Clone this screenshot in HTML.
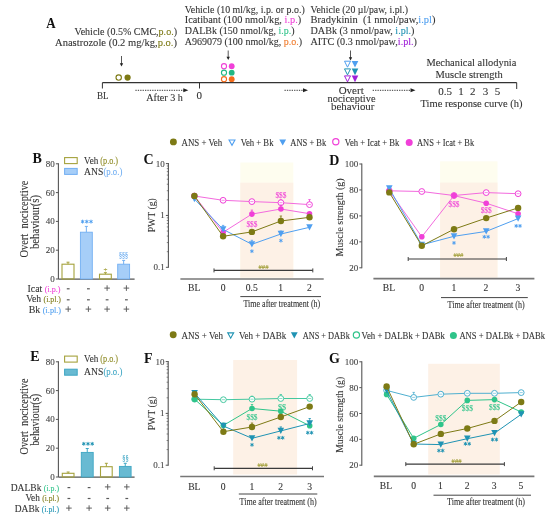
<!DOCTYPE html>
<html><head><meta charset="utf-8"><style>
html,body{margin:0;padding:0;background:#fff;width:550px;height:519px;overflow:hidden;}
svg{display:block;filter:blur(0.3px);}
text{font-family:"Liberation Serif",serif;}
</style></head><body>
<svg width="550" height="519" viewBox="0 0 550 519">
<rect x="0" y="0" width="550" height="519" fill="#fff"/>
<text x="46.2" y="28.3" font-size="14" fill="#111" font-weight="bold" textLength="9.4" lengthAdjust="spacingAndGlyphs">A</text>
<text x="177" y="34.5" font-size="11.2" fill="#333" stroke="#333" stroke-width="0.1" text-anchor="end" textLength="102.5" lengthAdjust="spacingAndGlyphs">Vehicle (0.5% CMC,<tspan fill="#7d7a15" stroke="#7d7a15">p.o.</tspan>)</text>
<text x="177" y="45.5" font-size="11.2" fill="#333" stroke="#333" stroke-width="0.1" text-anchor="end" textLength="122" lengthAdjust="spacingAndGlyphs">Anastrozole (0.2 mg/kg,<tspan fill="#7d7a15" stroke="#7d7a15">p.o.</tspan>)</text>
<text x="184.7" y="13" font-size="11.2" fill="#333" stroke="#333" stroke-width="0.1" textLength="120" lengthAdjust="spacingAndGlyphs">Vehicle (10 ml/kg, i.p. or p.o.)</text>
<text x="184.7" y="23.4" font-size="11.2" fill="#333" stroke="#333" stroke-width="0.1" textLength="116.5" lengthAdjust="spacingAndGlyphs">Icatibant (100 nmol/kg, <tspan fill="#f040d8" stroke="#f040d8">i.p.</tspan>)</text>
<text x="184.7" y="34.3" font-size="11.2" fill="#333" stroke="#333" stroke-width="0.1" textLength="110" lengthAdjust="spacingAndGlyphs">DALBk (150 nmol/kg, <tspan fill="#2fc48a" stroke="#2fc48a">i.p.</tspan>)</text>
<text x="184.7" y="45.3" font-size="11.2" fill="#333" stroke="#333" stroke-width="0.1" textLength="117.5" lengthAdjust="spacingAndGlyphs">A969079 (100 nmol/kg, <tspan fill="#f07a2a" stroke="#f07a2a">p.o.</tspan>)</text>
<text x="310.5" y="13" font-size="11.2" fill="#333" stroke="#333" stroke-width="0.1" textLength="97.5" lengthAdjust="spacingAndGlyphs">Vehicle (20 µl/paw, i.pl.)</text>
<text x="310.5" y="23.4" font-size="11.2" fill="#333" stroke="#333" stroke-width="0.1" textLength="125" lengthAdjust="spacingAndGlyphs">Bradykinin &#160;(1 nmol/paw,<tspan fill="#4f9ff0" stroke="#4f9ff0">i.pl</tspan>)</text>
<text x="310.5" y="34.3" font-size="11.2" fill="#333" stroke="#333" stroke-width="0.1" textLength="104" lengthAdjust="spacingAndGlyphs">DABk (3 nmol/paw, <tspan fill="#1f93b3" stroke="#1f93b3">i.pl.</tspan>)</text>
<text x="310.5" y="45.3" font-size="11.2" fill="#333" stroke="#333" stroke-width="0.1" textLength="106.5" lengthAdjust="spacingAndGlyphs">AITC (0.3 nmol/paw,<tspan fill="#a020d8" stroke="#a020d8">i.pl.</tspan>)</text>
<line x1="102.4" y1="82.6" x2="516.7" y2="82.6" stroke="#333" stroke-width="1.1"/>
<line x1="102.4" y1="82.6" x2="102.4" y2="88.5" stroke="#333" stroke-width="1"/>
<line x1="199.5" y1="82.6" x2="199.5" y2="88.5" stroke="#333" stroke-width="1"/>
<line x1="516.7" y1="82.6" x2="516.7" y2="89" stroke="#333" stroke-width="1"/>
<line x1="121.5" y1="56" x2="121.5" y2="64.0" stroke="#444" stroke-width="0.9"/>
<polygon points="119.8,63.3 123.2,63.3 121.5,66.5" fill="#222"/>
<line x1="228.2" y1="50.5" x2="228.2" y2="57.5" stroke="#444" stroke-width="0.9"/>
<polygon points="226.5,56.8 229.89999999999998,56.8 228.2,60" fill="#222"/>
<line x1="350.5" y1="50.5" x2="350.5" y2="58.0" stroke="#444" stroke-width="0.9"/>
<polygon points="348.8,57.3 352.2,57.3 350.5,60.5" fill="#222"/>
<circle cx="118.7" cy="77.6" r="2.7" fill="none" stroke="#7d7a15" stroke-width="1.1"/>
<circle cx="127.6" cy="77.6" r="3.1" fill="#7d7a15" stroke="none" stroke-width="1"/>
<circle cx="224.0" cy="66.2" r="2.55" fill="none" stroke="#f040d8" stroke-width="1.1"/>
<circle cx="231.7" cy="66.2" r="2.9" fill="#f040d8" stroke="none" stroke-width="1"/>
<circle cx="224.0" cy="72.7" r="2.55" fill="none" stroke="#22b884" stroke-width="1.1"/>
<circle cx="231.7" cy="72.7" r="2.9" fill="#22b884" stroke="none" stroke-width="1"/>
<circle cx="224.0" cy="79.2" r="2.55" fill="none" stroke="#f46b1a" stroke-width="1.1"/>
<circle cx="231.7" cy="79.2" r="2.9" fill="#f46b1a" stroke="none" stroke-width="1"/>
<polygon points="344.5,61.2 350.5,61.2 347.5,67.2" fill="none" stroke="#4f9ff0" stroke-width="1.0" stroke-linejoin="miter"/>
<polygon points="351.7,60.900000000000006 358.3,60.900000000000006 355,67.5" fill="#4f9ff0" stroke="none" stroke-width="1" stroke-linejoin="miter"/>
<polygon points="344.5,68.9 350.5,68.9 347.5,74.9" fill="none" stroke="#1f93b3" stroke-width="1.0" stroke-linejoin="miter"/>
<polygon points="351.7,68.60000000000001 358.3,68.60000000000001 355,75.2" fill="#1f93b3" stroke="none" stroke-width="1" stroke-linejoin="miter"/>
<polygon points="344.5,75.9 350.5,75.9 347.5,81.9" fill="none" stroke="#a020d8" stroke-width="1.0" stroke-linejoin="miter"/>
<polygon points="351.7,75.60000000000001 358.3,75.60000000000001 355,82.2" fill="#a020d8" stroke="none" stroke-width="1" stroke-linejoin="miter"/>
<line x1="135.4" y1="90.3" x2="184.3" y2="90.3" stroke="#222" stroke-width="0.9" stroke-dasharray="1.3,1.1"/>
<polygon points="183.3,88.3 183.3,92.3 188.3,90.3" fill="#222"/>
<line x1="284.5" y1="90.3" x2="304" y2="90.3" stroke="#222" stroke-width="0.9" stroke-dasharray="1.3,1.1"/>
<polygon points="303,88.3 303,92.3 308,90.3" fill="#222"/>
<line x1="372.7" y1="90.3" x2="411.5" y2="90.3" stroke="#222" stroke-width="0.9" stroke-dasharray="1.3,1.1"/>
<polygon points="410.5,88.3 410.5,92.3 415.5,90.3" fill="#222"/>
<text x="97" y="98.5" font-size="11" fill="#333" stroke="#333" stroke-width="0.1" textLength="11.6" lengthAdjust="spacingAndGlyphs">BL</text>
<text x="199.3" y="98.5" font-size="11" fill="#333" stroke="#333" stroke-width="0.1" text-anchor="middle">0</text>
<text x="146.3" y="100.7" font-size="11.2" fill="#333" stroke="#333" stroke-width="0.1" textLength="36.5" lengthAdjust="spacingAndGlyphs">After 3 h</text>
<text x="351.2" y="93.6" font-size="11.2" fill="#333" stroke="#333" stroke-width="0.1" text-anchor="middle" textLength="25" lengthAdjust="spacingAndGlyphs">Overt</text>
<text x="351.5" y="101.8" font-size="11.2" fill="#333" stroke="#333" stroke-width="0.1" text-anchor="middle" textLength="48" lengthAdjust="spacingAndGlyphs">nociceptive</text>
<text x="352.7" y="110" font-size="11.2" fill="#333" stroke="#333" stroke-width="0.1" text-anchor="middle" textLength="43.5" lengthAdjust="spacingAndGlyphs">behaviour</text>
<text x="426.4" y="66.4" font-size="11.2" fill="#333" stroke="#333" stroke-width="0.1" textLength="90" lengthAdjust="spacingAndGlyphs">Mechanical allodynia</text>
<text x="435.5" y="77.9" font-size="11.2" fill="#333" stroke="#333" stroke-width="0.1" textLength="67.2" lengthAdjust="spacingAndGlyphs">Muscle strength</text>
<text x="445" y="94.5" font-size="11" fill="#333" stroke="#333" stroke-width="0.1" text-anchor="middle">0.5</text>
<text x="461" y="94.5" font-size="11" fill="#333" stroke="#333" stroke-width="0.1" text-anchor="middle">1</text>
<text x="472.7" y="94.5" font-size="11" fill="#333" stroke="#333" stroke-width="0.1" text-anchor="middle">2</text>
<text x="485.5" y="94.5" font-size="11" fill="#333" stroke="#333" stroke-width="0.1" text-anchor="middle">3</text>
<text x="497.6" y="94.5" font-size="11" fill="#333" stroke="#333" stroke-width="0.1" text-anchor="middle">5</text>
<text x="420.5" y="107.3" font-size="11.2" fill="#333" stroke="#333" stroke-width="0.1" textLength="102" lengthAdjust="spacingAndGlyphs">Time response curve (h)</text>
<text x="32.4" y="163.3" font-size="14" fill="#111" font-weight="bold">B</text>
<line x1="58.4" y1="163.3" x2="58.4" y2="279" stroke="#555" stroke-width="1.1"/>
<line x1="58.4" y1="279" x2="134.6" y2="279" stroke="#555" stroke-width="1.25"/>
<line x1="55.9" y1="163.8" x2="58.4" y2="163.8" stroke="#555" stroke-width="1"/>
<text x="54.8" y="166.8" font-size="9" fill="#444" stroke="#444" stroke-width="0.1" text-anchor="end">80</text>
<line x1="55.9" y1="192.60000000000002" x2="58.4" y2="192.60000000000002" stroke="#555" stroke-width="1"/>
<text x="54.8" y="195.60000000000002" font-size="9" fill="#444" stroke="#444" stroke-width="0.1" text-anchor="end">60</text>
<line x1="55.9" y1="221.4" x2="58.4" y2="221.4" stroke="#555" stroke-width="1"/>
<text x="54.8" y="224.4" font-size="9" fill="#444" stroke="#444" stroke-width="0.1" text-anchor="end">40</text>
<line x1="55.9" y1="250.2" x2="58.4" y2="250.2" stroke="#555" stroke-width="1"/>
<text x="54.8" y="253.2" font-size="9" fill="#444" stroke="#444" stroke-width="0.1" text-anchor="end">20</text>
<line x1="55.9" y1="279.0" x2="58.4" y2="279.0" stroke="#555" stroke-width="1"/>
<text x="54.8" y="282.0" font-size="9" fill="#444" stroke="#444" stroke-width="0.1" text-anchor="end">0</text>
<rect x="64.6" y="157.6" width="12.6" height="6" fill="none" stroke="#a5a23c" stroke-width="1.1"/>
<rect x="64.6" y="168.4" width="12.6" height="6" fill="#a6cef8" stroke="#72aff2" stroke-width="1"/>
<text x="84.1" y="163.7" font-size="10.5" fill="#333" stroke="#333" stroke-width="0.1" textLength="34" lengthAdjust="spacingAndGlyphs">Veh<tspan fill="#8d8a22" stroke="#8d8a22" font-size="9.5"> (p.o.)</tspan></text>
<text x="84.1" y="174.5" font-size="10.5" fill="#333" stroke="#333" stroke-width="0.1" textLength="38.2" lengthAdjust="spacingAndGlyphs">ANS<tspan fill="#72aff2" stroke="#72aff2" font-size="9.5">(p.o.)</tspan></text>
<rect x="62.0" y="264.2" width="12.0" height="14.800000000000011" fill="none" stroke="#a5a23c" stroke-width="1.1"/>
<line x1="68.0" y1="264.2" x2="68.0" y2="262.2" stroke="#a5a23c" stroke-width="1"/>
<line x1="66.5" y1="262.2" x2="69.5" y2="262.2" stroke="#a5a23c" stroke-width="1"/>
<rect x="80.4" y="232.2" width="11.900000000000002" height="46.80000000000001" fill="#a6cef8" stroke="#72aff2" stroke-width="0.9"/>
<line x1="86.35" y1="232.2" x2="86.35" y2="226.4" stroke="#72aff2" stroke-width="1"/>
<line x1="84.85" y1="226.4" x2="87.85" y2="226.4" stroke="#72aff2" stroke-width="1"/>
<rect x="99.5" y="274.2" width="11.799999999999997" height="4.800000000000011" fill="none" stroke="#a5a23c" stroke-width="1.1"/>
<line x1="105.4" y1="274.2" x2="105.4" y2="272.7" stroke="#a5a23c" stroke-width="1"/>
<line x1="103.9" y1="272.7" x2="106.9" y2="272.7" stroke="#a5a23c" stroke-width="1"/>
<rect x="117.7" y="264.2" width="11.900000000000002" height="14.800000000000011" fill="#a6cef8" stroke="#72aff2" stroke-width="0.9"/>
<line x1="123.65" y1="264.2" x2="123.65" y2="260.4" stroke="#72aff2" stroke-width="1"/>
<line x1="122.15" y1="260.4" x2="125.15" y2="260.4" stroke="#72aff2" stroke-width="1"/>
<line x1="82.6" y1="219.7" x2="82.6" y2="223.5" stroke="#4f9ff0" stroke-width="1.0"/>
<line x1="80.95" y1="220.65" x2="84.25" y2="222.55" stroke="#4f9ff0" stroke-width="1.0"/>
<line x1="80.95" y1="222.55" x2="84.25" y2="220.65" stroke="#4f9ff0" stroke-width="1.0"/>
<line x1="86.8" y1="219.7" x2="86.8" y2="223.5" stroke="#4f9ff0" stroke-width="1.0"/>
<line x1="85.15" y1="220.65" x2="88.45" y2="222.55" stroke="#4f9ff0" stroke-width="1.0"/>
<line x1="85.15" y1="222.55" x2="88.45" y2="220.65" stroke="#4f9ff0" stroke-width="1.0"/>
<line x1="91.0" y1="219.7" x2="91.0" y2="223.5" stroke="#4f9ff0" stroke-width="1.0"/>
<line x1="89.35" y1="220.65" x2="92.65" y2="222.55" stroke="#4f9ff0" stroke-width="1.0"/>
<line x1="89.35" y1="222.55" x2="92.65" y2="220.65" stroke="#4f9ff0" stroke-width="1.0"/>
<text x="105.4" y="271.5" font-size="7" fill="#a5a23c" stroke="#a5a23c" stroke-width="0.1" text-anchor="middle">+</text>
<text x="123.6" y="257.6" font-size="8.5" fill="#5aa2ee" stroke="#5aa2ee" stroke-width="0.1" text-anchor="middle" textLength="9" lengthAdjust="spacingAndGlyphs" stroke="#7ab8f5" stroke-width="0.3">§§§</text>
<text transform="translate(27.6,219) rotate(-90)" x="0" y="0" font-size="11.5" fill="#333" stroke="#333" stroke-width="0.1" text-anchor="middle" textLength="77" lengthAdjust="spacingAndGlyphs">Overt &#160;nociceptive</text>
<text transform="translate(38.6,222) rotate(-90)" x="0" y="0" font-size="11.5" fill="#333" stroke="#333" stroke-width="0.1" text-anchor="middle" textLength="54" lengthAdjust="spacingAndGlyphs">behaviour(s)</text>
<text x="60.5" y="291.5" font-size="11" fill="#333" stroke="#333" stroke-width="0.1" text-anchor="end" textLength="33" lengthAdjust="spacingAndGlyphs">Icat <tspan fill="#f040d8" stroke="#f040d8" font-size="9">(i.p.)</tspan></text>
<line x1="66.8" y1="288.8" x2="69.60000000000001" y2="288.8" stroke="#5a5a5a" stroke-width="1.2"/>
<line x1="87.0" y1="288.8" x2="89.80000000000001" y2="288.8" stroke="#5a5a5a" stroke-width="1.2"/>
<line x1="104.3" y1="288.1" x2="109.89999999999999" y2="288.1" stroke="#5a5a5a" stroke-width="0.95"/>
<line x1="107.1" y1="285.3" x2="107.1" y2="290.90000000000003" stroke="#5a5a5a" stroke-width="0.95"/>
<line x1="123.60000000000001" y1="288.1" x2="129.20000000000002" y2="288.1" stroke="#5a5a5a" stroke-width="0.95"/>
<line x1="126.4" y1="285.3" x2="126.4" y2="290.90000000000003" stroke="#5a5a5a" stroke-width="0.95"/>
<text x="61" y="301.6" font-size="11" fill="#333" stroke="#333" stroke-width="0.1" text-anchor="end" textLength="34.8" lengthAdjust="spacingAndGlyphs">Veh <tspan fill="#7d7a15" stroke="#7d7a15" font-size="9">(i.pl.)</tspan></text>
<line x1="66.8" y1="299.8" x2="69.60000000000001" y2="299.8" stroke="#5a5a5a" stroke-width="1.2"/>
<line x1="87.0" y1="299.8" x2="89.80000000000001" y2="299.8" stroke="#5a5a5a" stroke-width="1.2"/>
<line x1="105.69999999999999" y1="299.8" x2="108.5" y2="299.8" stroke="#5a5a5a" stroke-width="1.2"/>
<line x1="125.0" y1="299.8" x2="127.80000000000001" y2="299.8" stroke="#5a5a5a" stroke-width="1.2"/>
<text x="61" y="312.6" font-size="11" fill="#333" stroke="#333" stroke-width="0.1" text-anchor="end" textLength="32.3" lengthAdjust="spacingAndGlyphs">Bk <tspan fill="#4f9ff0" stroke="#4f9ff0" font-size="9">(i.pl.)</tspan></text>
<line x1="65.4" y1="309.1" x2="71.0" y2="309.1" stroke="#5a5a5a" stroke-width="0.95"/>
<line x1="68.2" y1="306.3" x2="68.2" y2="311.90000000000003" stroke="#5a5a5a" stroke-width="0.95"/>
<line x1="85.60000000000001" y1="309.1" x2="91.2" y2="309.1" stroke="#5a5a5a" stroke-width="0.95"/>
<line x1="88.4" y1="306.3" x2="88.4" y2="311.90000000000003" stroke="#5a5a5a" stroke-width="0.95"/>
<line x1="104.3" y1="309.1" x2="109.89999999999999" y2="309.1" stroke="#5a5a5a" stroke-width="0.95"/>
<line x1="107.1" y1="306.3" x2="107.1" y2="311.90000000000003" stroke="#5a5a5a" stroke-width="0.95"/>
<line x1="123.60000000000001" y1="309.1" x2="129.20000000000002" y2="309.1" stroke="#5a5a5a" stroke-width="0.95"/>
<line x1="126.4" y1="306.3" x2="126.4" y2="311.90000000000003" stroke="#5a5a5a" stroke-width="0.95"/>
<text x="30.2" y="361" font-size="14" fill="#111" font-weight="bold">E</text>
<line x1="58.4" y1="361.3" x2="58.4" y2="477" stroke="#555" stroke-width="1.1"/>
<line x1="58.4" y1="477" x2="134.6" y2="477" stroke="#555" stroke-width="1.25"/>
<line x1="55.9" y1="361.8" x2="58.4" y2="361.8" stroke="#555" stroke-width="1"/>
<text x="54.8" y="364.8" font-size="9" fill="#444" stroke="#444" stroke-width="0.1" text-anchor="end">80</text>
<line x1="55.9" y1="390.6" x2="58.4" y2="390.6" stroke="#555" stroke-width="1"/>
<text x="54.8" y="393.6" font-size="9" fill="#444" stroke="#444" stroke-width="0.1" text-anchor="end">60</text>
<line x1="55.9" y1="419.4" x2="58.4" y2="419.4" stroke="#555" stroke-width="1"/>
<text x="54.8" y="422.4" font-size="9" fill="#444" stroke="#444" stroke-width="0.1" text-anchor="end">40</text>
<line x1="55.9" y1="448.2" x2="58.4" y2="448.2" stroke="#555" stroke-width="1"/>
<text x="54.8" y="451.2" font-size="9" fill="#444" stroke="#444" stroke-width="0.1" text-anchor="end">20</text>
<line x1="55.9" y1="477.0" x2="58.4" y2="477.0" stroke="#555" stroke-width="1"/>
<text x="54.8" y="480.0" font-size="9" fill="#444" stroke="#444" stroke-width="0.1" text-anchor="end">0</text>
<rect x="64.6" y="356.09999999999997" width="12.6" height="6" fill="none" stroke="#a5a23c" stroke-width="1.1"/>
<rect x="64.6" y="369.2" width="12.6" height="6" fill="#68bad2" stroke="#3ea6c4" stroke-width="1"/>
<text x="84.1" y="362.2" font-size="10.5" fill="#333" stroke="#333" stroke-width="0.1" textLength="34" lengthAdjust="spacingAndGlyphs">Veh<tspan fill="#8d8a22" stroke="#8d8a22" font-size="9.5"> (p.o.)</tspan></text>
<text x="84.1" y="375.3" font-size="10.5" fill="#333" stroke="#333" stroke-width="0.1" textLength="38.2" lengthAdjust="spacingAndGlyphs">ANS<tspan fill="#3ea6c4" stroke="#3ea6c4" font-size="9.5">(p.o.)</tspan></text>
<rect x="62.3" y="473.3" width="11.700000000000003" height="3.6999999999999886" fill="none" stroke="#a5a23c" stroke-width="1.1"/>
<line x1="68.15" y1="473.3" x2="68.15" y2="472.0" stroke="#a5a23c" stroke-width="1"/>
<line x1="66.65" y1="472.0" x2="69.65" y2="472.0" stroke="#a5a23c" stroke-width="1"/>
<rect x="81.30000000000001" y="452.4" width="11.899999999999988" height="24.600000000000023" fill="#68bad2" stroke="#3ea6c4" stroke-width="0.9"/>
<line x1="87.25" y1="452.4" x2="87.25" y2="448.5" stroke="#3ea6c4" stroke-width="1"/>
<line x1="85.75" y1="448.5" x2="88.75" y2="448.5" stroke="#3ea6c4" stroke-width="1"/>
<rect x="100.5" y="466.7" width="11.700000000000003" height="10.300000000000011" fill="none" stroke="#a5a23c" stroke-width="1.1"/>
<line x1="106.35" y1="466.7" x2="106.35" y2="463.3" stroke="#a5a23c" stroke-width="1"/>
<line x1="104.85" y1="463.3" x2="107.85" y2="463.3" stroke="#a5a23c" stroke-width="1"/>
<rect x="119.4" y="466.4" width="11.7" height="10.600000000000023" fill="#68bad2" stroke="#3ea6c4" stroke-width="0.9"/>
<line x1="125.25" y1="466.4" x2="125.25" y2="463.3" stroke="#3ea6c4" stroke-width="1"/>
<line x1="123.75" y1="463.3" x2="126.75" y2="463.3" stroke="#3ea6c4" stroke-width="1"/>
<line x1="83.8" y1="441.9" x2="83.8" y2="445.7" stroke="#1f93b3" stroke-width="1.0"/>
<line x1="82.15" y1="442.85" x2="85.45" y2="444.75" stroke="#1f93b3" stroke-width="1.0"/>
<line x1="82.15" y1="444.75" x2="85.45" y2="442.85" stroke="#1f93b3" stroke-width="1.0"/>
<line x1="88.0" y1="441.9" x2="88.0" y2="445.7" stroke="#1f93b3" stroke-width="1.0"/>
<line x1="86.35" y1="442.85" x2="89.65" y2="444.75" stroke="#1f93b3" stroke-width="1.0"/>
<line x1="86.35" y1="444.75" x2="89.65" y2="442.85" stroke="#1f93b3" stroke-width="1.0"/>
<line x1="92.2" y1="441.9" x2="92.2" y2="445.7" stroke="#1f93b3" stroke-width="1.0"/>
<line x1="90.55" y1="442.85" x2="93.85" y2="444.75" stroke="#1f93b3" stroke-width="1.0"/>
<line x1="90.55" y1="444.75" x2="93.85" y2="442.85" stroke="#1f93b3" stroke-width="1.0"/>
<text x="125.5" y="461.2" font-size="8.5" fill="#3ea6c4" stroke="#3ea6c4" stroke-width="0.1" text-anchor="middle" textLength="6.5" lengthAdjust="spacingAndGlyphs" stroke="#5ab0cc" stroke-width="0.3">§§</text>
<text transform="translate(27.6,416.5) rotate(-90)" x="0" y="0" font-size="11.5" fill="#333" stroke="#333" stroke-width="0.1" text-anchor="middle" textLength="76" lengthAdjust="spacingAndGlyphs">Overt &#160;nociceptive</text>
<text transform="translate(38.6,419.8) rotate(-90)" x="0" y="0" font-size="11.5" fill="#333" stroke="#333" stroke-width="0.1" text-anchor="middle" textLength="52" lengthAdjust="spacingAndGlyphs">behaviour(s)</text>
<text x="59" y="490.8" font-size="11" fill="#333" stroke="#333" stroke-width="0.1" text-anchor="end" textLength="48.3" lengthAdjust="spacingAndGlyphs">DALBk <tspan fill="#2fc48a" stroke="#2fc48a" font-size="9">(i.p.)</tspan></text>
<line x1="67.5" y1="487.59999999999997" x2="70.30000000000001" y2="487.59999999999997" stroke="#5a5a5a" stroke-width="1.2"/>
<line x1="87.69999999999999" y1="487.59999999999997" x2="90.5" y2="487.59999999999997" stroke="#5a5a5a" stroke-width="1.2"/>
<line x1="104.9" y1="486.9" x2="110.5" y2="486.9" stroke="#5a5a5a" stroke-width="0.95"/>
<line x1="107.7" y1="484.09999999999997" x2="107.7" y2="489.7" stroke="#5a5a5a" stroke-width="0.95"/>
<line x1="124.0" y1="486.9" x2="129.6" y2="486.9" stroke="#5a5a5a" stroke-width="0.95"/>
<line x1="126.8" y1="484.09999999999997" x2="126.8" y2="489.7" stroke="#5a5a5a" stroke-width="0.95"/>
<text x="59" y="501.1" font-size="11" fill="#333" stroke="#333" stroke-width="0.1" text-anchor="end" textLength="33.6" lengthAdjust="spacingAndGlyphs">Veh <tspan fill="#7d7a15" stroke="#7d7a15" font-size="9">(i.pl.)</tspan></text>
<line x1="67.5" y1="498.5" x2="70.30000000000001" y2="498.5" stroke="#5a5a5a" stroke-width="1.2"/>
<line x1="87.69999999999999" y1="498.5" x2="90.5" y2="498.5" stroke="#5a5a5a" stroke-width="1.2"/>
<line x1="106.3" y1="498.5" x2="109.10000000000001" y2="498.5" stroke="#5a5a5a" stroke-width="1.2"/>
<line x1="125.39999999999999" y1="498.5" x2="128.2" y2="498.5" stroke="#5a5a5a" stroke-width="1.2"/>
<text x="59" y="511.6" font-size="11" fill="#333" stroke="#333" stroke-width="0.1" text-anchor="end" textLength="44.2" lengthAdjust="spacingAndGlyphs">DABk <tspan fill="#1f93b3" stroke="#1f93b3" font-size="9">(i.pl.)</tspan></text>
<line x1="66.10000000000001" y1="508.1" x2="71.7" y2="508.1" stroke="#5a5a5a" stroke-width="0.95"/>
<line x1="68.9" y1="505.3" x2="68.9" y2="510.90000000000003" stroke="#5a5a5a" stroke-width="0.95"/>
<line x1="86.3" y1="508.1" x2="91.89999999999999" y2="508.1" stroke="#5a5a5a" stroke-width="0.95"/>
<line x1="89.1" y1="505.3" x2="89.1" y2="510.90000000000003" stroke="#5a5a5a" stroke-width="0.95"/>
<line x1="104.9" y1="508.1" x2="110.5" y2="508.1" stroke="#5a5a5a" stroke-width="0.95"/>
<line x1="107.7" y1="505.3" x2="107.7" y2="510.90000000000003" stroke="#5a5a5a" stroke-width="0.95"/>
<line x1="124.0" y1="508.1" x2="129.6" y2="508.1" stroke="#5a5a5a" stroke-width="0.95"/>
<line x1="126.8" y1="505.3" x2="126.8" y2="510.90000000000003" stroke="#5a5a5a" stroke-width="0.95"/>
<rect x="240.3" y="162.5" width="53" height="115.2" fill="#fefdef" stroke="none" stroke-width="1"/>
<rect x="240.3" y="182.7" width="53" height="95" fill="#fdf1e6" stroke="none" stroke-width="1"/>
<text x="143.5" y="164.3" font-size="14" fill="#111" font-weight="bold">C</text>
<line x1="168.4" y1="163.1" x2="168.4" y2="267.8" stroke="#555" stroke-width="1.1"/>
<line x1="165.9" y1="163.6" x2="168.4" y2="163.6" stroke="#555" stroke-width="1"/>
<text x="164.8" y="166.6" font-size="9" fill="#444" stroke="#444" stroke-width="0.1" text-anchor="end">10</text>
<line x1="165.9" y1="215.45" x2="168.4" y2="215.45" stroke="#555" stroke-width="1"/>
<text x="164.8" y="218.45" font-size="9" fill="#444" stroke="#444" stroke-width="0.1" text-anchor="end">1</text>
<line x1="165.9" y1="267.3" x2="168.4" y2="267.3" stroke="#555" stroke-width="1"/>
<text x="164.8" y="270.3" font-size="9" fill="#444" stroke="#444" stroke-width="0.1" text-anchor="end">0.1</text>
<line x1="166.8" y1="251.69159472482255" x2="168.4" y2="251.69159472482255" stroke="#555" stroke-width="0.7"/>
<line x1="166.8" y1="242.5612629427855" x2="168.4" y2="242.5612629427855" stroke="#555" stroke-width="0.7"/>
<line x1="166.8" y1="236.08318944964515" x2="168.4" y2="236.08318944964515" stroke="#555" stroke-width="0.7"/>
<line x1="166.8" y1="231.05840527517742" x2="168.4" y2="231.05840527517742" stroke="#555" stroke-width="0.7"/>
<line x1="166.8" y1="226.95285766760807" x2="168.4" y2="226.95285766760807" stroke="#555" stroke-width="0.7"/>
<line x1="166.8" y1="223.48166662526077" x2="168.4" y2="223.48166662526077" stroke="#555" stroke-width="0.7"/>
<line x1="166.8" y1="220.47478417446771" x2="168.4" y2="220.47478417446771" stroke="#555" stroke-width="0.7"/>
<line x1="166.8" y1="217.822525885571" x2="168.4" y2="217.822525885571" stroke="#555" stroke-width="0.7"/>
<line x1="166.8" y1="199.84159472482256" x2="168.4" y2="199.84159472482256" stroke="#555" stroke-width="0.7"/>
<line x1="166.8" y1="190.71126294278548" x2="168.4" y2="190.71126294278548" stroke="#555" stroke-width="0.7"/>
<line x1="166.8" y1="184.23318944964512" x2="168.4" y2="184.23318944964512" stroke="#555" stroke-width="0.7"/>
<line x1="166.8" y1="179.20840527517743" x2="168.4" y2="179.20840527517743" stroke="#555" stroke-width="0.7"/>
<line x1="166.8" y1="175.10285766760808" x2="168.4" y2="175.10285766760808" stroke="#555" stroke-width="0.7"/>
<line x1="166.8" y1="171.63166662526078" x2="168.4" y2="171.63166662526078" stroke="#555" stroke-width="0.7"/>
<line x1="166.8" y1="168.62478417446772" x2="168.4" y2="168.62478417446772" stroke="#555" stroke-width="0.7"/>
<line x1="166.8" y1="165.972525885571" x2="168.4" y2="165.972525885571" stroke="#555" stroke-width="0.7"/>
<line x1="180.4" y1="279" x2="323.7" y2="279" stroke="#777" stroke-width="1.7"/>
<text x="194.2" y="291.3" font-size="9.6" fill="#333" stroke="#333" stroke-width="0.1" text-anchor="middle">BL</text>
<text x="223.1" y="291.3" font-size="9.6" fill="#333" stroke="#333" stroke-width="0.1" text-anchor="middle">0</text>
<text x="251.7" y="291.3" font-size="9.6" fill="#333" stroke="#333" stroke-width="0.1" text-anchor="middle">0.5</text>
<text x="280.6" y="291.3" font-size="9.6" fill="#333" stroke="#333" stroke-width="0.1" text-anchor="middle">1</text>
<text x="309.5" y="291.3" font-size="9.6" fill="#333" stroke="#333" stroke-width="0.1" text-anchor="middle">2</text>
<line x1="240.3" y1="296.6" x2="321" y2="296.6" stroke="#444" stroke-width="1.0"/>
<text x="243.5" y="307.0" font-size="9.5" fill="#333" stroke="#333" stroke-width="0.1" textLength="76.69999999999999" lengthAdjust="spacingAndGlyphs">Time after treatment (h)</text>
<polyline points="194.4,196 223.1,200.3 251.9,201.6 280.9,202.7 309.5,204.6" fill="none" stroke="#f36ade" stroke-width="1.0" stroke-linejoin="round"/>
<line x1="280.9" y1="202.7" x2="280.9" y2="199.7" stroke="#f040d8" stroke-width="0.8"/>
<line x1="279.7" y1="199.7" x2="282.09999999999997" y2="199.7" stroke="#f040d8" stroke-width="0.8"/>
<line x1="309.5" y1="204.6" x2="309.5" y2="199.6" stroke="#f040d8" stroke-width="0.8"/>
<line x1="308.3" y1="199.6" x2="310.7" y2="199.6" stroke="#f040d8" stroke-width="0.8"/>
<circle cx="194.4" cy="196" r="2.9" fill="#fff" stroke="#f040d8" stroke-width="1.0"/>
<line x1="192.8" y1="196" x2="196.0" y2="196" stroke="#f040d8" stroke-width="0.6"/>
<circle cx="223.1" cy="200.3" r="2.9" fill="#fff" stroke="#f040d8" stroke-width="1.0"/>
<line x1="221.5" y1="200.3" x2="224.7" y2="200.3" stroke="#f040d8" stroke-width="0.6"/>
<circle cx="251.9" cy="201.6" r="2.9" fill="#fff" stroke="#f040d8" stroke-width="1.0"/>
<line x1="250.3" y1="201.6" x2="253.5" y2="201.6" stroke="#f040d8" stroke-width="0.6"/>
<circle cx="280.9" cy="202.7" r="2.9" fill="#fff" stroke="#f040d8" stroke-width="1.0"/>
<line x1="279.29999999999995" y1="202.7" x2="282.5" y2="202.7" stroke="#f040d8" stroke-width="0.6"/>
<circle cx="309.5" cy="204.6" r="2.9" fill="#fff" stroke="#f040d8" stroke-width="1.0"/>
<line x1="307.9" y1="204.6" x2="311.1" y2="204.6" stroke="#f040d8" stroke-width="0.6"/>
<polyline points="194.4,196 223.1,232.3 251.9,214.1 280.9,209 309.5,213.7" fill="none" stroke="#f36ade" stroke-width="1.0" stroke-linejoin="round"/>
<line x1="251.9" y1="214.1" x2="251.9" y2="210.1" stroke="#f040d8" stroke-width="0.8"/>
<line x1="250.70000000000002" y1="210.1" x2="253.1" y2="210.1" stroke="#f040d8" stroke-width="0.8"/>
<line x1="280.9" y1="209" x2="280.9" y2="205" stroke="#f040d8" stroke-width="0.8"/>
<line x1="279.7" y1="205" x2="282.09999999999997" y2="205" stroke="#f040d8" stroke-width="0.8"/>
<circle cx="194.4" cy="196" r="2.8" fill="#f040d8" stroke="none" stroke-width="1"/>
<circle cx="223.1" cy="232.3" r="2.8" fill="#f040d8" stroke="none" stroke-width="1"/>
<circle cx="251.9" cy="214.1" r="2.8" fill="#f040d8" stroke="none" stroke-width="1"/>
<circle cx="280.9" cy="209" r="2.8" fill="#f040d8" stroke="none" stroke-width="1"/>
<circle cx="309.5" cy="213.7" r="2.8" fill="#f040d8" stroke="none" stroke-width="1"/>
<polyline points="194.4,199 223.1,229.4 251.9,244.3 280.9,234 309.5,227.3" fill="none" stroke="#4f9ff0" stroke-width="1.0" stroke-linejoin="round"/>
<line x1="223.1" y1="229.4" x2="223.1" y2="225.4" stroke="#4f9ff0" stroke-width="0.8"/>
<line x1="221.9" y1="225.4" x2="224.29999999999998" y2="225.4" stroke="#4f9ff0" stroke-width="0.8"/>
<line x1="251.9" y1="244.3" x2="251.9" y2="240.3" stroke="#4f9ff0" stroke-width="0.8"/>
<line x1="250.70000000000002" y1="240.3" x2="253.1" y2="240.3" stroke="#4f9ff0" stroke-width="0.8"/>
<line x1="280.9" y1="234" x2="280.9" y2="231" stroke="#4f9ff0" stroke-width="0.8"/>
<line x1="279.7" y1="231" x2="282.09999999999997" y2="231" stroke="#4f9ff0" stroke-width="0.8"/>
<polygon points="191.1,195.865 197.70000000000002,195.865 194.4,202.135" fill="#4f9ff0" stroke="none" stroke-width="1" stroke-linejoin="miter"/>
<polygon points="219.79999999999998,226.26500000000001 226.4,226.26500000000001 223.1,232.535" fill="#4f9ff0" stroke="none" stroke-width="1" stroke-linejoin="miter"/>
<polygon points="248.6,241.16500000000002 255.20000000000002,241.16500000000002 251.9,247.435" fill="#4f9ff0" stroke="none" stroke-width="1" stroke-linejoin="miter"/>
<polygon points="277.59999999999997,230.865 284.2,230.865 280.9,237.135" fill="#4f9ff0" stroke="none" stroke-width="1" stroke-linejoin="miter"/>
<polygon points="306.2,224.16500000000002 312.8,224.16500000000002 309.5,230.435" fill="#4f9ff0" stroke="none" stroke-width="1" stroke-linejoin="miter"/>
<polyline points="194.4,196 223.1,236.3 251.9,231.9 280.9,221 309.5,217.3" fill="none" stroke="#7d7a15" stroke-width="1.0" stroke-linejoin="round"/>
<line x1="280.9" y1="221" x2="280.9" y2="216" stroke="#7d7a15" stroke-width="0.8"/>
<line x1="279.7" y1="216" x2="282.09999999999997" y2="216" stroke="#7d7a15" stroke-width="0.8"/>
<line x1="309.5" y1="217.3" x2="309.5" y2="214.3" stroke="#7d7a15" stroke-width="0.8"/>
<line x1="308.3" y1="214.3" x2="310.7" y2="214.3" stroke="#7d7a15" stroke-width="0.8"/>
<circle cx="194.4" cy="196" r="3.2" fill="#7d7a15" stroke="none" stroke-width="1"/>
<circle cx="223.1" cy="236.3" r="3.2" fill="#7d7a15" stroke="none" stroke-width="1"/>
<circle cx="251.9" cy="231.9" r="3.2" fill="#7d7a15" stroke="none" stroke-width="1"/>
<circle cx="280.9" cy="221" r="3.2" fill="#7d7a15" stroke="none" stroke-width="1"/>
<circle cx="309.5" cy="217.3" r="3.2" fill="#7d7a15" stroke="none" stroke-width="1"/>
<text x="251.9" y="226.6" font-size="7.5" fill="#f040d8" stroke="#f040d8" stroke-width="0.1" text-anchor="middle" textLength="11" lengthAdjust="spacingAndGlyphs">$$$</text>
<text x="280.9" y="198.1" font-size="7.5" fill="#f040d8" stroke="#f040d8" stroke-width="0.1" text-anchor="middle" textLength="11" lengthAdjust="spacingAndGlyphs">$$$</text>
<line x1="251.9" y1="249.3" x2="251.9" y2="253.1" stroke="#4f9ff0" stroke-width="1.0"/>
<line x1="250.25" y1="250.25" x2="253.55" y2="252.15" stroke="#4f9ff0" stroke-width="1.0"/>
<line x1="250.25" y1="252.15" x2="253.55" y2="250.25" stroke="#4f9ff0" stroke-width="1.0"/>
<line x1="280.9" y1="238.7" x2="280.9" y2="242.5" stroke="#4f9ff0" stroke-width="1.0"/>
<line x1="279.25" y1="239.65" x2="282.55" y2="241.55" stroke="#4f9ff0" stroke-width="1.0"/>
<line x1="279.25" y1="241.55" x2="282.55" y2="239.65" stroke="#4f9ff0" stroke-width="1.0"/>
<line x1="214" y1="270.4" x2="312.8" y2="270.4" stroke="#3a3a3a" stroke-width="1.2"/>
<line x1="214" y1="268.4" x2="214" y2="272.4" stroke="#444" stroke-width="1"/>
<line x1="312.8" y1="268.4" x2="312.8" y2="272.4" stroke="#444" stroke-width="1"/>
<text x="263.5" y="268.8" font-size="7" fill="#9a982a" stroke="#9a982a" stroke-width="0.1" text-anchor="middle" textLength="10" lengthAdjust="spacingAndGlyphs">###</text>
<text transform="translate(155.2,215.3) rotate(-90)" x="0" y="0" font-size="11.3" fill="#333" stroke="#333" stroke-width="0.1" text-anchor="middle" textLength="34" lengthAdjust="spacingAndGlyphs">PWT (g)</text>
<rect x="440.1" y="161.3" width="57.4" height="116.2" fill="#fefdef" stroke="none" stroke-width="1"/>
<rect x="440.1" y="182.6" width="57.4" height="95" fill="#fdf1e6" stroke="none" stroke-width="1"/>
<text x="329.2" y="165" font-size="14" fill="#111" font-weight="bold">D</text>
<line x1="361.8" y1="163.5" x2="361.8" y2="268.3" stroke="#555" stroke-width="1.1"/>
<line x1="359.3" y1="164.0" x2="361.8" y2="164.0" stroke="#555" stroke-width="1"/>
<text x="358.2" y="167.0" font-size="9" fill="#444" stroke="#444" stroke-width="0.1" text-anchor="end">100</text>
<line x1="359.3" y1="189.95" x2="361.8" y2="189.95" stroke="#555" stroke-width="1"/>
<text x="358.2" y="192.95" font-size="9" fill="#444" stroke="#444" stroke-width="0.1" text-anchor="end">80</text>
<line x1="359.3" y1="215.9" x2="361.8" y2="215.9" stroke="#555" stroke-width="1"/>
<text x="358.2" y="218.9" font-size="9" fill="#444" stroke="#444" stroke-width="0.1" text-anchor="end">60</text>
<line x1="359.3" y1="241.85" x2="361.8" y2="241.85" stroke="#555" stroke-width="1"/>
<text x="358.2" y="244.85" font-size="9" fill="#444" stroke="#444" stroke-width="0.1" text-anchor="end">40</text>
<line x1="359.3" y1="267.8" x2="361.8" y2="267.8" stroke="#555" stroke-width="1"/>
<text x="358.2" y="270.8" font-size="9" fill="#444" stroke="#444" stroke-width="0.1" text-anchor="end">20</text>
<line x1="373.4" y1="278.7" x2="534.4" y2="278.7" stroke="#777" stroke-width="1.7"/>
<text x="389" y="291.0" font-size="9.6" fill="#333" stroke="#333" stroke-width="0.1" text-anchor="middle">BL</text>
<text x="421.7" y="291.0" font-size="9.6" fill="#333" stroke="#333" stroke-width="0.1" text-anchor="middle">0</text>
<text x="454" y="291.0" font-size="9.6" fill="#333" stroke="#333" stroke-width="0.1" text-anchor="middle">1</text>
<text x="485.8" y="291.0" font-size="9.6" fill="#333" stroke="#333" stroke-width="0.1" text-anchor="middle">2</text>
<text x="517.8" y="291.0" font-size="9.6" fill="#333" stroke="#333" stroke-width="0.1" text-anchor="middle">3</text>
<line x1="441" y1="297.6" x2="527.8" y2="297.6" stroke="#444" stroke-width="1.0"/>
<text x="447.6" y="308.1" font-size="9.5" fill="#333" stroke="#333" stroke-width="0.1" textLength="77.0" lengthAdjust="spacingAndGlyphs">Time after treatment (h)</text>
<polyline points="389.3,190.8 421.8,191.5 454,195.5 486.2,192.6 518.1,193.7" fill="none" stroke="#f36ade" stroke-width="1.0" stroke-linejoin="round"/>
<circle cx="389.3" cy="190.8" r="2.9" fill="#fff" stroke="#f040d8" stroke-width="1.0"/>
<line x1="387.7" y1="190.8" x2="390.90000000000003" y2="190.8" stroke="#f040d8" stroke-width="0.6"/>
<circle cx="421.8" cy="191.5" r="2.9" fill="#fff" stroke="#f040d8" stroke-width="1.0"/>
<line x1="420.2" y1="191.5" x2="423.40000000000003" y2="191.5" stroke="#f040d8" stroke-width="0.6"/>
<circle cx="454" cy="195.5" r="2.9" fill="#fff" stroke="#f040d8" stroke-width="1.0"/>
<line x1="452.4" y1="195.5" x2="455.6" y2="195.5" stroke="#f040d8" stroke-width="0.6"/>
<circle cx="486.2" cy="192.6" r="2.9" fill="#fff" stroke="#f040d8" stroke-width="1.0"/>
<line x1="484.59999999999997" y1="192.6" x2="487.8" y2="192.6" stroke="#f040d8" stroke-width="0.6"/>
<circle cx="518.1" cy="193.7" r="2.9" fill="#fff" stroke="#f040d8" stroke-width="1.0"/>
<line x1="516.5" y1="193.7" x2="519.7" y2="193.7" stroke="#f040d8" stroke-width="0.6"/>
<polyline points="389.3,190.8 421.8,236.8 454,195.6 486.2,203.2 518.1,213.8" fill="none" stroke="#f36ade" stroke-width="1.0" stroke-linejoin="round"/>
<circle cx="389.3" cy="190.8" r="2.8" fill="#f040d8" stroke="none" stroke-width="1"/>
<circle cx="421.8" cy="236.8" r="2.8" fill="#f040d8" stroke="none" stroke-width="1"/>
<circle cx="454" cy="195.6" r="2.8" fill="#f040d8" stroke="none" stroke-width="1"/>
<circle cx="486.2" cy="203.2" r="2.8" fill="#f040d8" stroke="none" stroke-width="1"/>
<circle cx="518.1" cy="213.8" r="2.8" fill="#f040d8" stroke="none" stroke-width="1"/>
<polyline points="389.3,188.5 421.8,244.8 454,236.3 486.2,231.4 518.1,218.6" fill="none" stroke="#4f9ff0" stroke-width="1.0" stroke-linejoin="round"/>
<polygon points="386.0,185.365 392.6,185.365 389.3,191.635" fill="#4f9ff0" stroke="none" stroke-width="1" stroke-linejoin="miter"/>
<polygon points="418.5,241.66500000000002 425.1,241.66500000000002 421.8,247.935" fill="#4f9ff0" stroke="none" stroke-width="1" stroke-linejoin="miter"/>
<polygon points="450.7,233.16500000000002 457.3,233.16500000000002 454,239.435" fill="#4f9ff0" stroke="none" stroke-width="1" stroke-linejoin="miter"/>
<polygon points="482.9,228.26500000000001 489.5,228.26500000000001 486.2,234.535" fill="#4f9ff0" stroke="none" stroke-width="1" stroke-linejoin="miter"/>
<polygon points="514.8000000000001,215.465 521.4,215.465 518.1,221.73499999999999" fill="#4f9ff0" stroke="none" stroke-width="1" stroke-linejoin="miter"/>
<polyline points="389.3,192.4 421.8,245.8 454,229.2 486.2,218.1 518.1,207.9" fill="none" stroke="#7d7a15" stroke-width="1.0" stroke-linejoin="round"/>
<circle cx="389.3" cy="192.4" r="3.2" fill="#7d7a15" stroke="none" stroke-width="1"/>
<circle cx="421.8" cy="245.8" r="3.2" fill="#7d7a15" stroke="none" stroke-width="1"/>
<circle cx="454" cy="229.2" r="3.2" fill="#7d7a15" stroke="none" stroke-width="1"/>
<circle cx="486.2" cy="218.1" r="3.2" fill="#7d7a15" stroke="none" stroke-width="1"/>
<circle cx="518.1" cy="207.9" r="3.2" fill="#7d7a15" stroke="none" stroke-width="1"/>
<text x="454" y="207.1" font-size="7.5" fill="#f040d8" stroke="#f040d8" stroke-width="0.1" text-anchor="middle" textLength="11" lengthAdjust="spacingAndGlyphs">$$$</text>
<text x="486.2" y="213.1" font-size="7.5" fill="#f040d8" stroke="#f040d8" stroke-width="0.1" text-anchor="middle" textLength="11" lengthAdjust="spacingAndGlyphs">$$$</text>
<line x1="454.0" y1="241.0" x2="454.0" y2="244.8" stroke="#4f9ff0" stroke-width="1.0"/>
<line x1="452.35" y1="241.95" x2="455.65" y2="243.85" stroke="#4f9ff0" stroke-width="1.0"/>
<line x1="452.35" y1="243.85" x2="455.65" y2="241.95" stroke="#4f9ff0" stroke-width="1.0"/>
<line x1="484.3" y1="234.9" x2="484.3" y2="238.7" stroke="#4f9ff0" stroke-width="1.0"/>
<line x1="482.65" y1="235.85" x2="485.95" y2="237.75" stroke="#4f9ff0" stroke-width="1.0"/>
<line x1="482.65" y1="237.75" x2="485.95" y2="235.85" stroke="#4f9ff0" stroke-width="1.0"/>
<line x1="488.1" y1="234.9" x2="488.1" y2="238.7" stroke="#4f9ff0" stroke-width="1.0"/>
<line x1="486.45" y1="235.85" x2="489.75" y2="237.75" stroke="#4f9ff0" stroke-width="1.0"/>
<line x1="486.45" y1="237.75" x2="489.75" y2="235.85" stroke="#4f9ff0" stroke-width="1.0"/>
<line x1="516.2" y1="224.0" x2="516.2" y2="227.8" stroke="#4f9ff0" stroke-width="1.0"/>
<line x1="514.55" y1="224.95" x2="517.85" y2="226.85" stroke="#4f9ff0" stroke-width="1.0"/>
<line x1="514.55" y1="226.85" x2="517.85" y2="224.95" stroke="#4f9ff0" stroke-width="1.0"/>
<line x1="520.0" y1="224.0" x2="520.0" y2="227.8" stroke="#4f9ff0" stroke-width="1.0"/>
<line x1="518.35" y1="224.95" x2="521.65" y2="226.85" stroke="#4f9ff0" stroke-width="1.0"/>
<line x1="518.35" y1="226.85" x2="521.65" y2="224.95" stroke="#4f9ff0" stroke-width="1.0"/>
<line x1="408.2" y1="259" x2="506.4" y2="259" stroke="#3a3a3a" stroke-width="1.2"/>
<line x1="408.2" y1="257" x2="408.2" y2="261" stroke="#444" stroke-width="1"/>
<line x1="506.4" y1="257" x2="506.4" y2="261" stroke="#444" stroke-width="1"/>
<text x="458.4" y="257.3" font-size="7" fill="#9a982a" stroke="#9a982a" stroke-width="0.1" text-anchor="middle" textLength="10" lengthAdjust="spacingAndGlyphs">###</text>
<text transform="translate(343,217.5) rotate(-90)" x="0" y="0" font-size="11" fill="#333" stroke="#333" stroke-width="0.1" text-anchor="middle" textLength="78" lengthAdjust="spacingAndGlyphs">Muscle strength (g)</text>
<circle cx="173.4" cy="141.9" r="3.45" fill="#7d7a15" stroke="none" stroke-width="1"/>
<text x="181.5" y="145.9" font-size="10.5" fill="#333" stroke="#333" stroke-width="0.1" textLength="40.7" lengthAdjust="spacingAndGlyphs">ANS + Veh</text>
<polygon points="229.05,140.045 234.95,140.045 232,145.355" fill="none" stroke="#4f9ff0" stroke-width="1.1" stroke-linejoin="miter"/>
<text x="240.7" y="145.9" font-size="10.5" fill="#333" stroke="#333" stroke-width="0.1" textLength="32.8" lengthAdjust="spacingAndGlyphs">Veh + Bk</text>
<polygon points="279.3,139.44 286.09999999999997,139.44 282.7,145.56" fill="#4f9ff0" stroke="none" stroke-width="1" stroke-linejoin="miter"/>
<text x="290.3" y="145.9" font-size="10.5" fill="#333" stroke="#333" stroke-width="0.1" textLength="36" lengthAdjust="spacingAndGlyphs">ANS + Bk</text>
<circle cx="335.8" cy="141.8" r="3.1" fill="none" stroke="#f040d8" stroke-width="1.2"/>
<text x="344.7" y="145.9" font-size="10.5" fill="#333" stroke="#333" stroke-width="0.1" textLength="54.7" lengthAdjust="spacingAndGlyphs">Veh + Icat + Bk</text>
<circle cx="409.2" cy="142.6" r="3.5" fill="#f040d8" stroke="none" stroke-width="1"/>
<text x="417" y="145.9" font-size="10.5" fill="#333" stroke="#333" stroke-width="0.1" textLength="57.2" lengthAdjust="spacingAndGlyphs">ANS + Icat + Bk</text>
<rect x="233.2" y="360" width="63.9" height="114.5" fill="#fdf1e6" stroke="none" stroke-width="1"/>
<text x="144.1" y="362.6" font-size="14" fill="#111" font-weight="bold">F</text>
<line x1="168.2" y1="361.1" x2="168.2" y2="465.7" stroke="#555" stroke-width="1.1"/>
<line x1="165.7" y1="361.6" x2="168.2" y2="361.6" stroke="#555" stroke-width="1"/>
<text x="164.6" y="364.6" font-size="9" fill="#444" stroke="#444" stroke-width="0.1" text-anchor="end">10</text>
<line x1="165.7" y1="413.4" x2="168.2" y2="413.4" stroke="#555" stroke-width="1"/>
<text x="164.6" y="416.4" font-size="9" fill="#444" stroke="#444" stroke-width="0.1" text-anchor="end">1</text>
<line x1="165.7" y1="465.2" x2="168.2" y2="465.2" stroke="#555" stroke-width="1"/>
<text x="164.6" y="468.2" font-size="9" fill="#444" stroke="#444" stroke-width="0.1" text-anchor="end">0.1</text>
<line x1="166.6" y1="449.60664622460575" x2="168.2" y2="449.60664622460575" stroke="#555" stroke-width="0.7"/>
<line x1="166.6" y1="440.4851190055215" x2="168.2" y2="440.4851190055215" stroke="#555" stroke-width="0.7"/>
<line x1="166.6" y1="434.0132924492115" x2="168.2" y2="434.0132924492115" stroke="#555" stroke-width="0.7"/>
<line x1="166.6" y1="428.9933537753942" x2="168.2" y2="428.9933537753942" stroke="#555" stroke-width="0.7"/>
<line x1="166.6" y1="424.89176523012725" x2="168.2" y2="424.89176523012725" stroke="#555" stroke-width="0.7"/>
<line x1="166.6" y1="421.4239215272615" x2="168.2" y2="421.4239215272615" stroke="#555" stroke-width="0.7"/>
<line x1="166.6" y1="418.4199386738173" x2="168.2" y2="418.4199386738173" stroke="#555" stroke-width="0.7"/>
<line x1="166.6" y1="415.7702380110429" x2="168.2" y2="415.7702380110429" stroke="#555" stroke-width="0.7"/>
<line x1="166.6" y1="397.80664622460574" x2="168.2" y2="397.80664622460574" stroke="#555" stroke-width="0.7"/>
<line x1="166.6" y1="388.68511900552147" x2="168.2" y2="388.68511900552147" stroke="#555" stroke-width="0.7"/>
<line x1="166.6" y1="382.2132924492115" x2="168.2" y2="382.2132924492115" stroke="#555" stroke-width="0.7"/>
<line x1="166.6" y1="377.1933537753942" x2="168.2" y2="377.1933537753942" stroke="#555" stroke-width="0.7"/>
<line x1="166.6" y1="373.09176523012724" x2="168.2" y2="373.09176523012724" stroke="#555" stroke-width="0.7"/>
<line x1="166.6" y1="369.6239215272615" x2="168.2" y2="369.6239215272615" stroke="#555" stroke-width="0.7"/>
<line x1="166.6" y1="366.6199386738173" x2="168.2" y2="366.6199386738173" stroke="#555" stroke-width="0.7"/>
<line x1="166.6" y1="363.97023801104297" x2="168.2" y2="363.97023801104297" stroke="#555" stroke-width="0.7"/>
<line x1="180.2" y1="476.5" x2="324" y2="476.5" stroke="#777" stroke-width="1.7"/>
<text x="194.3" y="489.7" font-size="9.6" fill="#333" stroke="#333" stroke-width="0.1" text-anchor="middle">BL</text>
<text x="223.2" y="489.7" font-size="9.6" fill="#333" stroke="#333" stroke-width="0.1" text-anchor="middle">0</text>
<text x="252" y="489.7" font-size="9.6" fill="#333" stroke="#333" stroke-width="0.1" text-anchor="middle">1</text>
<text x="280.6" y="489.7" font-size="9.6" fill="#333" stroke="#333" stroke-width="0.1" text-anchor="middle">2</text>
<text x="309.6" y="489.7" font-size="9.6" fill="#333" stroke="#333" stroke-width="0.1" text-anchor="middle">3</text>
<line x1="238.8" y1="494" x2="317.3" y2="494" stroke="#444" stroke-width="1.0"/>
<text x="239.6" y="504.9" font-size="9.5" fill="#333" stroke="#333" stroke-width="0.1" textLength="77.1" lengthAdjust="spacingAndGlyphs">Time after treatment (h)</text>
<polyline points="194.6,399.2 223.4,399.7 252,399.2 280.8,398.5 309.7,398.5" fill="none" stroke="#45c8a0" stroke-width="1.0" stroke-linejoin="round"/>
<line x1="252" y1="399.2" x2="252" y2="396.2" stroke="#45c8a0" stroke-width="0.8"/>
<line x1="250.8" y1="396.2" x2="253.2" y2="396.2" stroke="#45c8a0" stroke-width="0.8"/>
<line x1="280.8" y1="398.5" x2="280.8" y2="394.5" stroke="#45c8a0" stroke-width="0.8"/>
<line x1="279.6" y1="394.5" x2="282.0" y2="394.5" stroke="#45c8a0" stroke-width="0.8"/>
<line x1="309.7" y1="398.5" x2="309.7" y2="394.5" stroke="#45c8a0" stroke-width="0.8"/>
<line x1="308.5" y1="394.5" x2="310.9" y2="394.5" stroke="#45c8a0" stroke-width="0.8"/>
<circle cx="194.6" cy="399.2" r="2.9" fill="#fff" stroke="#45c8a0" stroke-width="1.0"/>
<line x1="193.0" y1="399.2" x2="196.2" y2="399.2" stroke="#45c8a0" stroke-width="0.6"/>
<circle cx="223.4" cy="399.7" r="2.9" fill="#fff" stroke="#45c8a0" stroke-width="1.0"/>
<line x1="221.8" y1="399.7" x2="225.0" y2="399.7" stroke="#45c8a0" stroke-width="0.6"/>
<circle cx="252" cy="399.2" r="2.9" fill="#fff" stroke="#45c8a0" stroke-width="1.0"/>
<line x1="250.4" y1="399.2" x2="253.6" y2="399.2" stroke="#45c8a0" stroke-width="0.6"/>
<circle cx="280.8" cy="398.5" r="2.9" fill="#fff" stroke="#45c8a0" stroke-width="1.0"/>
<line x1="279.2" y1="398.5" x2="282.40000000000003" y2="398.5" stroke="#45c8a0" stroke-width="0.6"/>
<circle cx="309.7" cy="398.5" r="2.9" fill="#fff" stroke="#45c8a0" stroke-width="1.0"/>
<line x1="308.09999999999997" y1="398.5" x2="311.3" y2="398.5" stroke="#45c8a0" stroke-width="0.6"/>
<polyline points="194.6,399.2 223.4,425.4 252,408.5 280.8,411.2 309.7,425.8" fill="none" stroke="#2fc48a" stroke-width="1.0" stroke-linejoin="round"/>
<line x1="252" y1="408.5" x2="252" y2="404.5" stroke="#2fc48a" stroke-width="0.8"/>
<line x1="250.8" y1="404.5" x2="253.2" y2="404.5" stroke="#2fc48a" stroke-width="0.8"/>
<circle cx="194.6" cy="399.2" r="2.8" fill="#2fc48a" stroke="none" stroke-width="1"/>
<circle cx="223.4" cy="425.4" r="2.8" fill="#2fc48a" stroke="none" stroke-width="1"/>
<circle cx="252" cy="408.5" r="2.8" fill="#2fc48a" stroke="none" stroke-width="1"/>
<circle cx="280.8" cy="411.2" r="2.8" fill="#2fc48a" stroke="none" stroke-width="1"/>
<circle cx="309.7" cy="425.8" r="2.8" fill="#2fc48a" stroke="none" stroke-width="1"/>
<polyline points="194.6,393.2 223.4,426 252,438.3 280.8,430.9 309.7,423.5" fill="none" stroke="#1f93b3" stroke-width="1.0" stroke-linejoin="round"/>
<line x1="280.8" y1="430.9" x2="280.8" y2="426.9" stroke="#1f93b3" stroke-width="0.8"/>
<line x1="279.6" y1="426.9" x2="282.0" y2="426.9" stroke="#1f93b3" stroke-width="0.8"/>
<line x1="309.7" y1="423.5" x2="309.7" y2="418.5" stroke="#1f93b3" stroke-width="0.8"/>
<line x1="308.5" y1="418.5" x2="310.9" y2="418.5" stroke="#1f93b3" stroke-width="0.8"/>
<polygon points="191.29999999999998,390.065 197.9,390.065 194.6,396.335" fill="#1f93b3" stroke="none" stroke-width="1" stroke-linejoin="miter"/>
<polygon points="220.1,422.865 226.70000000000002,422.865 223.4,429.135" fill="#1f93b3" stroke="none" stroke-width="1" stroke-linejoin="miter"/>
<polygon points="248.7,435.165 255.3,435.165 252,441.435" fill="#1f93b3" stroke="none" stroke-width="1" stroke-linejoin="miter"/>
<polygon points="277.5,427.765 284.1,427.765 280.8,434.03499999999997" fill="#1f93b3" stroke="none" stroke-width="1" stroke-linejoin="miter"/>
<polygon points="306.4,420.365 313.0,420.365 309.7,426.635" fill="#1f93b3" stroke="none" stroke-width="1" stroke-linejoin="miter"/>
<polyline points="194.6,394.2 223.4,431.7 252,427 280.8,417 309.7,406.6" fill="none" stroke="#7d7a15" stroke-width="1.0" stroke-linejoin="round"/>
<line x1="252" y1="427" x2="252" y2="423" stroke="#7d7a15" stroke-width="0.8"/>
<line x1="250.8" y1="423" x2="253.2" y2="423" stroke="#7d7a15" stroke-width="0.8"/>
<circle cx="194.6" cy="394.2" r="3.2" fill="#7d7a15" stroke="none" stroke-width="1"/>
<circle cx="223.4" cy="431.7" r="3.2" fill="#7d7a15" stroke="none" stroke-width="1"/>
<circle cx="252" cy="427" r="3.2" fill="#7d7a15" stroke="none" stroke-width="1"/>
<circle cx="280.8" cy="417" r="3.2" fill="#7d7a15" stroke="none" stroke-width="1"/>
<circle cx="309.7" cy="406.6" r="3.2" fill="#7d7a15" stroke="none" stroke-width="1"/>
<text x="252" y="419.6" font-size="7.5" fill="#2fc48a" stroke="#2fc48a" stroke-width="0.1" text-anchor="middle" textLength="11" lengthAdjust="spacingAndGlyphs">$$$</text>
<text x="282" y="410.1" font-size="7.5" fill="#2fc48a" stroke="#2fc48a" stroke-width="0.1" text-anchor="middle" textLength="8" lengthAdjust="spacingAndGlyphs">$$</text>
<line x1="252.0" y1="442.9" x2="252.0" y2="446.7" stroke="#1f93b3" stroke-width="1.0"/>
<line x1="250.35" y1="443.85" x2="253.65" y2="445.75" stroke="#1f93b3" stroke-width="1.0"/>
<line x1="250.35" y1="445.75" x2="253.65" y2="443.85" stroke="#1f93b3" stroke-width="1.0"/>
<line x1="278.9" y1="435.9" x2="278.9" y2="439.7" stroke="#1f93b3" stroke-width="1.0"/>
<line x1="277.25" y1="436.85" x2="280.55" y2="438.75" stroke="#1f93b3" stroke-width="1.0"/>
<line x1="277.25" y1="438.75" x2="280.55" y2="436.85" stroke="#1f93b3" stroke-width="1.0"/>
<line x1="282.7" y1="435.9" x2="282.7" y2="439.7" stroke="#1f93b3" stroke-width="1.0"/>
<line x1="281.05" y1="436.85" x2="284.35" y2="438.75" stroke="#1f93b3" stroke-width="1.0"/>
<line x1="281.05" y1="438.75" x2="284.35" y2="436.85" stroke="#1f93b3" stroke-width="1.0"/>
<line x1="307.8" y1="430.8" x2="307.8" y2="434.6" stroke="#1f93b3" stroke-width="1.0"/>
<line x1="306.15" y1="431.75" x2="309.45" y2="433.65" stroke="#1f93b3" stroke-width="1.0"/>
<line x1="306.15" y1="433.65" x2="309.45" y2="431.75" stroke="#1f93b3" stroke-width="1.0"/>
<line x1="311.6" y1="430.8" x2="311.6" y2="434.6" stroke="#1f93b3" stroke-width="1.0"/>
<line x1="309.95" y1="431.75" x2="313.25" y2="433.65" stroke="#1f93b3" stroke-width="1.0"/>
<line x1="309.95" y1="433.65" x2="313.25" y2="431.75" stroke="#1f93b3" stroke-width="1.0"/>
<line x1="214.2" y1="468.3" x2="312.5" y2="468.3" stroke="#3a3a3a" stroke-width="1.2"/>
<line x1="214.2" y1="466.3" x2="214.2" y2="470.3" stroke="#444" stroke-width="1"/>
<line x1="312.5" y1="466.3" x2="312.5" y2="470.3" stroke="#444" stroke-width="1"/>
<text x="262.5" y="466.8" font-size="7" fill="#9a982a" stroke="#9a982a" stroke-width="0.1" text-anchor="middle" textLength="10" lengthAdjust="spacingAndGlyphs">###</text>
<text transform="translate(155.2,413.3) rotate(-90)" x="0" y="0" font-size="11.3" fill="#333" stroke="#333" stroke-width="0.1" text-anchor="middle" textLength="34" lengthAdjust="spacingAndGlyphs">PWT (g)</text>
<rect x="428.2" y="363.8" width="71.6" height="110.7" fill="#fdf1e6" stroke="none" stroke-width="1"/>
<text x="329.0" y="363" font-size="14" fill="#111" font-weight="bold">G</text>
<line x1="361.8" y1="361.3" x2="361.8" y2="465.7" stroke="#555" stroke-width="1.1"/>
<line x1="359.3" y1="361.8" x2="361.8" y2="361.8" stroke="#555" stroke-width="1"/>
<text x="358.2" y="364.8" font-size="9" fill="#444" stroke="#444" stroke-width="0.1" text-anchor="end">100</text>
<line x1="359.3" y1="387.65000000000003" x2="361.8" y2="387.65000000000003" stroke="#555" stroke-width="1"/>
<text x="358.2" y="390.65000000000003" font-size="9" fill="#444" stroke="#444" stroke-width="0.1" text-anchor="end">80</text>
<line x1="359.3" y1="413.5" x2="361.8" y2="413.5" stroke="#555" stroke-width="1"/>
<text x="358.2" y="416.5" font-size="9" fill="#444" stroke="#444" stroke-width="0.1" text-anchor="end">60</text>
<line x1="359.3" y1="439.35" x2="361.8" y2="439.35" stroke="#555" stroke-width="1"/>
<text x="358.2" y="442.35" font-size="9" fill="#444" stroke="#444" stroke-width="0.1" text-anchor="end">40</text>
<line x1="359.3" y1="465.20000000000005" x2="361.8" y2="465.20000000000005" stroke="#555" stroke-width="1"/>
<text x="358.2" y="468.20000000000005" font-size="9" fill="#444" stroke="#444" stroke-width="0.1" text-anchor="end">20</text>
<line x1="373.8" y1="476.4" x2="534.4" y2="476.4" stroke="#777" stroke-width="1.7"/>
<text x="386" y="488.5" font-size="9.6" fill="#333" stroke="#333" stroke-width="0.1" text-anchor="middle">BL</text>
<text x="413.6" y="488.5" font-size="9.6" fill="#333" stroke="#333" stroke-width="0.1" text-anchor="middle">0</text>
<text x="440.5" y="488.5" font-size="9.6" fill="#333" stroke="#333" stroke-width="0.1" text-anchor="middle">1</text>
<text x="467.2" y="488.5" font-size="9.6" fill="#333" stroke="#333" stroke-width="0.1" text-anchor="middle">2</text>
<text x="494.2" y="488.5" font-size="9.6" fill="#333" stroke="#333" stroke-width="0.1" text-anchor="middle">3</text>
<text x="521" y="488.5" font-size="9.6" fill="#333" stroke="#333" stroke-width="0.1" text-anchor="middle">5</text>
<line x1="433.5" y1="495.2" x2="531" y2="495.2" stroke="#444" stroke-width="1.0"/>
<text x="447" y="505.0" font-size="9.5" fill="#333" stroke="#333" stroke-width="0.1" textLength="78" lengthAdjust="spacingAndGlyphs">Time after treatment (h)</text>
<polyline points="386.6,390.4 413.7,397.4 440.8,394.2 467.3,393.3 494.5,393.3 521.2,392.6" fill="none" stroke="#4fb0d0" stroke-width="1.0" stroke-linejoin="round"/>
<line x1="413.7" y1="397.4" x2="413.7" y2="392.4" stroke="#4fb0d0" stroke-width="0.8"/>
<line x1="412.5" y1="392.4" x2="414.9" y2="392.4" stroke="#4fb0d0" stroke-width="0.8"/>
<circle cx="386.6" cy="390.4" r="2.9" fill="#fff" stroke="#4fb0d0" stroke-width="1.0"/>
<line x1="385.0" y1="390.4" x2="388.20000000000005" y2="390.4" stroke="#4fb0d0" stroke-width="0.6"/>
<circle cx="413.7" cy="397.4" r="2.9" fill="#fff" stroke="#4fb0d0" stroke-width="1.0"/>
<line x1="412.09999999999997" y1="397.4" x2="415.3" y2="397.4" stroke="#4fb0d0" stroke-width="0.6"/>
<circle cx="440.8" cy="394.2" r="2.9" fill="#fff" stroke="#4fb0d0" stroke-width="1.0"/>
<line x1="439.2" y1="394.2" x2="442.40000000000003" y2="394.2" stroke="#4fb0d0" stroke-width="0.6"/>
<circle cx="467.3" cy="393.3" r="2.9" fill="#fff" stroke="#4fb0d0" stroke-width="1.0"/>
<line x1="465.7" y1="393.3" x2="468.90000000000003" y2="393.3" stroke="#4fb0d0" stroke-width="0.6"/>
<circle cx="494.5" cy="393.3" r="2.9" fill="#fff" stroke="#4fb0d0" stroke-width="1.0"/>
<line x1="492.9" y1="393.3" x2="496.1" y2="393.3" stroke="#4fb0d0" stroke-width="0.6"/>
<circle cx="521.2" cy="392.6" r="2.9" fill="#fff" stroke="#4fb0d0" stroke-width="1.0"/>
<line x1="519.6" y1="392.6" x2="522.8000000000001" y2="392.6" stroke="#4fb0d0" stroke-width="0.6"/>
<polyline points="386.6,394.4 413.7,438.3 440.8,424.5 467.3,400.4 494.5,399.6 521.2,412" fill="none" stroke="#2fc48a" stroke-width="1.0" stroke-linejoin="round"/>
<circle cx="386.6" cy="394.4" r="2.8" fill="#2fc48a" stroke="none" stroke-width="1"/>
<circle cx="413.7" cy="438.3" r="2.8" fill="#2fc48a" stroke="none" stroke-width="1"/>
<circle cx="440.8" cy="424.5" r="2.8" fill="#2fc48a" stroke="none" stroke-width="1"/>
<circle cx="467.3" cy="400.4" r="2.8" fill="#2fc48a" stroke="none" stroke-width="1"/>
<circle cx="494.5" cy="399.6" r="2.8" fill="#2fc48a" stroke="none" stroke-width="1"/>
<circle cx="521.2" cy="412" r="2.8" fill="#2fc48a" stroke="none" stroke-width="1"/>
<polyline points="386.6,390.4 413.7,444 440.8,444.6 467.3,438.7 494.5,433.2 521.2,414.3" fill="none" stroke="#1f93b3" stroke-width="1.0" stroke-linejoin="round"/>
<polygon points="383.3,387.265 389.90000000000003,387.265 386.6,393.53499999999997" fill="#1f93b3" stroke="none" stroke-width="1" stroke-linejoin="miter"/>
<polygon points="410.4,440.865 417.0,440.865 413.7,447.135" fill="#1f93b3" stroke="none" stroke-width="1" stroke-linejoin="miter"/>
<polygon points="437.5,441.46500000000003 444.1,441.46500000000003 440.8,447.735" fill="#1f93b3" stroke="none" stroke-width="1" stroke-linejoin="miter"/>
<polygon points="464.0,435.565 470.6,435.565 467.3,441.835" fill="#1f93b3" stroke="none" stroke-width="1" stroke-linejoin="miter"/>
<polygon points="491.2,430.065 497.8,430.065 494.5,436.335" fill="#1f93b3" stroke="none" stroke-width="1" stroke-linejoin="miter"/>
<polygon points="517.9000000000001,411.165 524.5,411.165 521.2,417.435" fill="#1f93b3" stroke="none" stroke-width="1" stroke-linejoin="miter"/>
<polyline points="386.6,386.5 413.7,444.3 440.8,433.9 467.3,428.5 494.5,420.9 521.2,402" fill="none" stroke="#7d7a15" stroke-width="1.0" stroke-linejoin="round"/>
<circle cx="386.6" cy="386.5" r="3.2" fill="#7d7a15" stroke="none" stroke-width="1"/>
<circle cx="413.7" cy="444.3" r="3.2" fill="#7d7a15" stroke="none" stroke-width="1"/>
<circle cx="440.8" cy="433.9" r="3.2" fill="#7d7a15" stroke="none" stroke-width="1"/>
<circle cx="467.3" cy="428.5" r="3.2" fill="#7d7a15" stroke="none" stroke-width="1"/>
<circle cx="494.5" cy="420.9" r="3.2" fill="#7d7a15" stroke="none" stroke-width="1"/>
<circle cx="521.2" cy="402" r="3.2" fill="#7d7a15" stroke="none" stroke-width="1"/>
<text x="440.8" y="420.9" font-size="7.5" fill="#2fc48a" stroke="#2fc48a" stroke-width="0.1" text-anchor="middle" textLength="11" lengthAdjust="spacingAndGlyphs">$$$</text>
<text x="467.3" y="411.4" font-size="7.5" fill="#2fc48a" stroke="#2fc48a" stroke-width="0.1" text-anchor="middle" textLength="11" lengthAdjust="spacingAndGlyphs">$$$</text>
<text x="494.5" y="410.2" font-size="7.5" fill="#2fc48a" stroke="#2fc48a" stroke-width="0.1" text-anchor="middle" textLength="11" lengthAdjust="spacingAndGlyphs">$$$</text>
<line x1="438.9" y1="448.7" x2="438.9" y2="452.5" stroke="#1f93b3" stroke-width="1.0"/>
<line x1="437.25" y1="449.65" x2="440.55" y2="451.55" stroke="#1f93b3" stroke-width="1.0"/>
<line x1="437.25" y1="451.55" x2="440.55" y2="449.65" stroke="#1f93b3" stroke-width="1.0"/>
<line x1="442.7" y1="448.7" x2="442.7" y2="452.5" stroke="#1f93b3" stroke-width="1.0"/>
<line x1="441.05" y1="449.65" x2="444.35" y2="451.55" stroke="#1f93b3" stroke-width="1.0"/>
<line x1="441.05" y1="451.55" x2="444.35" y2="449.65" stroke="#1f93b3" stroke-width="1.0"/>
<line x1="465.4" y1="441.9" x2="465.4" y2="445.7" stroke="#1f93b3" stroke-width="1.0"/>
<line x1="463.75" y1="442.85" x2="467.05" y2="444.75" stroke="#1f93b3" stroke-width="1.0"/>
<line x1="463.75" y1="444.75" x2="467.05" y2="442.85" stroke="#1f93b3" stroke-width="1.0"/>
<line x1="469.2" y1="441.9" x2="469.2" y2="445.7" stroke="#1f93b3" stroke-width="1.0"/>
<line x1="467.55" y1="442.85" x2="470.85" y2="444.75" stroke="#1f93b3" stroke-width="1.0"/>
<line x1="467.55" y1="444.75" x2="470.85" y2="442.85" stroke="#1f93b3" stroke-width="1.0"/>
<line x1="492.6" y1="437.7" x2="492.6" y2="441.5" stroke="#1f93b3" stroke-width="1.0"/>
<line x1="490.95" y1="438.65" x2="494.25" y2="440.55" stroke="#1f93b3" stroke-width="1.0"/>
<line x1="490.95" y1="440.55" x2="494.25" y2="438.65" stroke="#1f93b3" stroke-width="1.0"/>
<line x1="496.4" y1="437.7" x2="496.4" y2="441.5" stroke="#1f93b3" stroke-width="1.0"/>
<line x1="494.75" y1="438.65" x2="498.05" y2="440.55" stroke="#1f93b3" stroke-width="1.0"/>
<line x1="494.75" y1="440.55" x2="498.05" y2="438.65" stroke="#1f93b3" stroke-width="1.0"/>
<line x1="405.8" y1="464.1" x2="504.4" y2="464.1" stroke="#3a3a3a" stroke-width="1.2"/>
<line x1="405.8" y1="462.1" x2="405.8" y2="466.1" stroke="#444" stroke-width="1"/>
<line x1="504.4" y1="462.1" x2="504.4" y2="466.1" stroke="#444" stroke-width="1"/>
<text x="456.6" y="462.5" font-size="7" fill="#9a982a" stroke="#9a982a" stroke-width="0.1" text-anchor="middle" textLength="10" lengthAdjust="spacingAndGlyphs">###</text>
<text transform="translate(343.2,414.8) rotate(-90)" x="0" y="0" font-size="11" fill="#333" stroke="#333" stroke-width="0.1" text-anchor="middle" textLength="76" lengthAdjust="spacingAndGlyphs">Muscle strength (g)</text>
<circle cx="173.2" cy="334.8" r="3.45" fill="#7d7a15" stroke="none" stroke-width="1"/>
<text x="181.5" y="339.1" font-size="10.5" fill="#333" stroke="#333" stroke-width="0.1" textLength="41.5" lengthAdjust="spacingAndGlyphs">ANS + Veh</text>
<polygon points="227.75,332.845 233.64999999999998,332.845 230.7,338.155" fill="none" stroke="#1f93b3" stroke-width="1.1" stroke-linejoin="miter"/>
<text x="239" y="339.1" font-size="10.5" fill="#333" stroke="#333" stroke-width="0.1" textLength="47.2" lengthAdjust="spacingAndGlyphs">Veh + DABk</text>
<polygon points="290.90000000000003,332.34 297.7,332.34 294.3,338.46" fill="#1f93b3" stroke="none" stroke-width="1" stroke-linejoin="miter"/>
<text x="302.7" y="339.1" font-size="10.5" fill="#333" stroke="#333" stroke-width="0.1" textLength="47.1" lengthAdjust="spacingAndGlyphs">ANS + DABk</text>
<circle cx="356.4" cy="335" r="3.1" fill="none" stroke="#2fc48a" stroke-width="1.2"/>
<text x="361.6" y="339.1" font-size="10.5" fill="#333" stroke="#333" stroke-width="0.1" textLength="83.4" lengthAdjust="spacingAndGlyphs">Veh + DALBk + DABk</text>
<circle cx="453.4" cy="335.4" r="3.5" fill="#2fc48a" stroke="none" stroke-width="1"/>
<text x="459.4" y="339.1" font-size="10.5" fill="#333" stroke="#333" stroke-width="0.1" textLength="85.6" lengthAdjust="spacingAndGlyphs">ANS + DALBk + DABk</text>
</svg></body></html>
